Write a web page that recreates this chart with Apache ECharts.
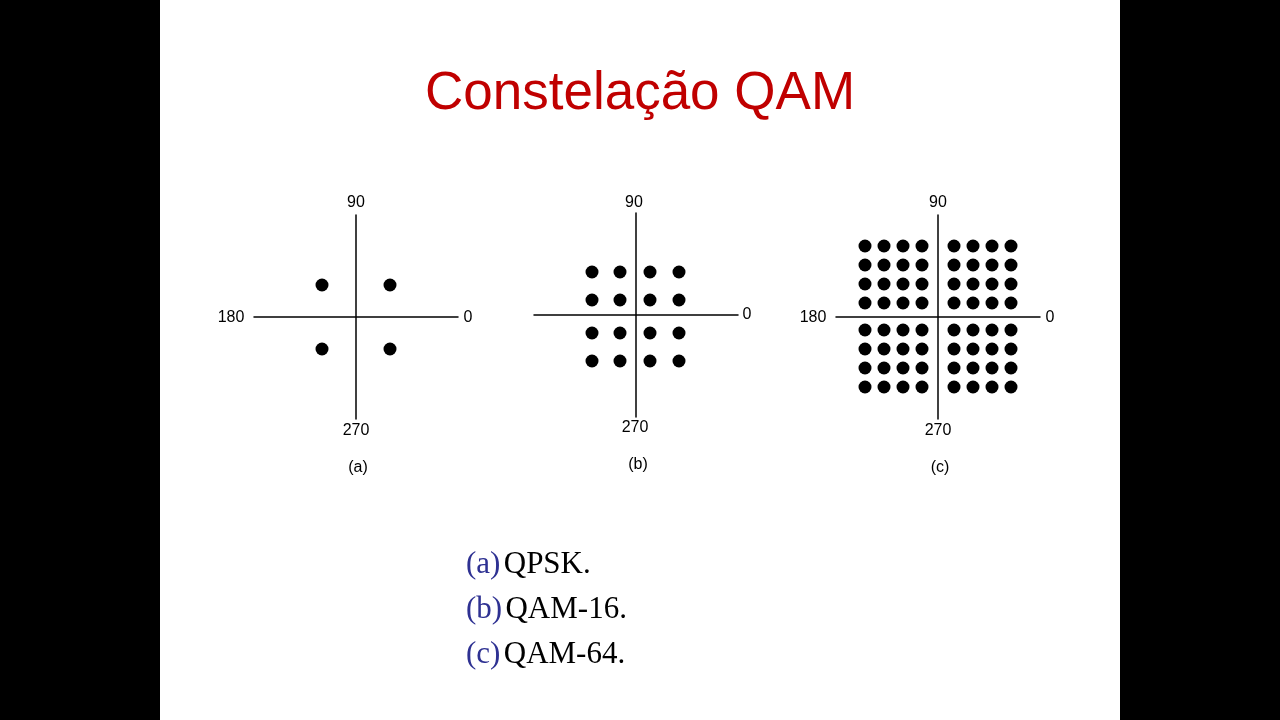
<!DOCTYPE html>
<html>
<head>
<meta charset="utf-8">
<script src="https://cdn.jsdelivr.net/npm/echarts@6/dist/echarts.min.js"></script>
<style>
html,body{margin:0;padding:0;background:#000;}
#main{width:1280px;height:720px;}
</style>
</head>
<body>
<div id="main"></div>
<script>
// pontos de cada constelação (offsets em px a partir do centro)
var qpskX = [-34, 34, -34, 34];
var qpskY = [32, 32, -32, -32];
var qam16Cols = [-44, -16, 14, 43];
var qam16Rows = [43, 15, -18, -46];
var qam64Cols = [-73, -54, -35, -16, 16, 35, 54, 73];
var qam64Rows = [71, 52, 33, 14, -13, -32, -51, -70];
var bullets = [['(a)', 'QPSK.'], ['(b)', 'QAM-16.'], ['(c)', 'QAM-64.']];

function grid2pts(cols, rows) {
    var out = [];
    for (var i = 0; i < rows.length; i++)
        for (var j = 0; j < cols.length; j++) out.push([cols[j], rows[i]]);
    return out;
}
var qpsk = [];
for (var k = 0; k < qpskX.length; k++) qpsk.push([qpskX[k], qpskY[k]]);

var centers = [[356, 317], [636, 315], [938, 317]];
var sets = [qpsk, grid2pts(qam16Cols, qam16Rows), grid2pts(qam64Cols, qam64Rows)];

var grids = [], xAxes = [], yAxes = [], series = [];
for (var g = 0; g < 3; g++) {
    grids.push({left: centers[g][0] - 102, top: centers[g][1] - 102, width: 204, height: 204});
    var ax = {
        type: 'value', gridIndex: g, min: -102, max: 102,
        axisLine: {show: true, onZero: true, lineStyle: {color: '#000', width: 1.5}},
        axisTick: {show: false}, axisLabel: {show: false}, splitLine: {show: false}
    };
    xAxes.push(ax);
    yAxes.push(Object.assign({}, ax));
    series.push({
        type: 'scatter', xAxisIndex: g, yAxisIndex: g, data: sets[g],
        symbolSize: 13, itemStyle: {color: '#000', opacity: 1}, silent: true
    });
}

function lbl(x, y, t) {
    return {type: 'text', x: x, y: y, style: {text: t, fill: '#000', font: '16px "Liberation Sans", Arial',
        align: 'center', verticalAlign: 'middle'}};
}
var gr = [
    {type: 'rect', shape: {x: 160, y: 0, width: 960, height: 720}, style: {fill: '#fff'}, z: -10},
    {type: 'text', x: 640, y: 94, style: {text: 'Constelação QAM', fill: '#c00000',
        font: '53px "Liberation Sans", Arial', align: 'center', verticalAlign: 'middle'}},
    lbl(356, 203, '90'), lbl(231, 318, '180'), lbl(468, 318, '0'), lbl(356, 431, '270'), lbl(358, 468, '(a)'),
    lbl(634, 203, '90'), lbl(747, 315, '0'), lbl(635, 428, '270'), lbl(638, 465, '(b)'),
    lbl(938, 203, '90'), lbl(813, 318, '180'), lbl(1050, 318, '0'), lbl(938, 431, '270'), lbl(940, 468, '(c)')
];
for (var b = 0; b < bullets.length; b++) {
    gr.push({type: 'text', x: 466, y: 565 + b * 45, style: {
        text: '{a|' + bullets[b][0] + '} {t|' + bullets[b][1] + '}', verticalAlign: 'middle',
        rich: {a: {fill: '#2e3192', font: '31px "Liberation Serif", "Times New Roman"'},
               t: {fill: '#000', font: '31px "Liberation Serif", "Times New Roman"'}}
    }});
}

var myChart = echarts.init(document.getElementById('main'));
myChart.setOption({
    backgroundColor: '#000',
    animation: false,
    grid: grids, xAxis: xAxes, yAxis: yAxes, series: series,
    graphic: gr
});
</script>
</body>
</html>
